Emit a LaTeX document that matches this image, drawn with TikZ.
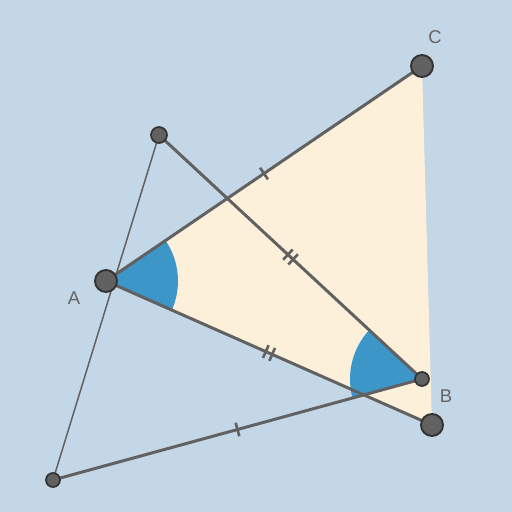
\documentclass[tikz,border=0pt]{standalone}
\usepackage{fontspec}
\setsansfont{Liberation Sans}
\usetikzlibrary{angles,decorations.markings}
\definecolor{bgblue}{RGB}{195,215,231}
\definecolor{cream}{RGB}{253,240,219}
\definecolor{angblue}{RGB}{61,150,200}
\definecolor{segrey}{RGB}{97,97,97}
\definecolor{dotrim}{RGB}{51,51,51}
\definecolor{lblgrey}{RGB}{100,100,100}
\tikzstyle{invis} = [draw=none]
\tikzstyle{seg} = [-, draw=segrey, line width=1.7pt]
\tikzstyle{thinseg} = [-, draw=segrey, line width=0.85pt]
\tikzstyle{bigdot} = [draw=dotrim, fill=segrey, circle, line width=1.1pt, inner sep=0pt, minimum size=0.44cm]
\tikzstyle{smalldot} = [draw=dotrim, fill=segrey, circle, line width=1pt, inner sep=0pt, minimum size=0.28cm]
\tikzstyle{lbl} = [draw=none, text=lblgrey, font=\sffamily\fontsize{10.5}{12}\selectfont]
\tikzstyle{onetick} = [postaction={decorate}, decoration={markings,
  mark=at position 0.5 with {\draw[segrey, line width=1.5pt] (0,-0.14cm) -- (0,0.14cm);}}]
\tikzstyle{twotick} = [postaction={decorate}, decoration={markings,
  mark=at position 0.5 with {\draw[segrey, line width=1.5pt] (-0.07cm,-0.14cm) -- (-0.07cm,0.14cm)
    (0.07cm,-0.14cm) -- (0.07cm,0.14cm);}}]

\begin{document}
\begin{tikzpicture}[x=0.02cm,y=0.02cm]

    \fill[bgblue] (0,0) rectangle (512,512);
    \useasboundingbox (0,0) rectangle (512,512);

    \coordinate (A) at (106,231);
    \coordinate (B) at (432,87);
    \coordinate (C) at (422,446);
    \coordinate (P) at (159,377);
    \coordinate (Q) at (422,133);
    \coordinate (R) at (53,32);

    \fill[cream] (A) -- (B) -- (C) -- cycle;

    \path
    (P) edge [thinseg] node {} (R);

    %=====================

    \path pic [draw=none, fill=angblue, angle radius=1.44cm] {angle = B--A--C};
    \path pic [draw=none, fill=angblue, angle radius=1.44cm] {angle = P--Q--R};

    \path
    (A) edge [seg, onetick] node {} (C)
    (A) edge [seg, twotick] node {} (B)
    (P) edge [seg, twotick] node {} (Q)
    (R) edge [seg, onetick] node {} (Q);

    %=====================

    \node[bigdot] at (A) (dA) [] {};
    \node[bigdot] at (B) (dB) [] {};
    \node[bigdot] at (C) (dC) [] {};
    \node[smalldot, minimum size=0.32cm] at (P) (dP) [] {};
    \node[smalldot] at (Q) (dQ) [] {};
    \node[smalldot] at (R) (dR) [] {};

    \node[lbl] at (74,214) (lA) [] {A};
    \node[lbl] at (446,116) (lB) [] {B};
    \node[lbl] at (435,475) (lC) [] {C};

\end{tikzpicture}
\end{document}
